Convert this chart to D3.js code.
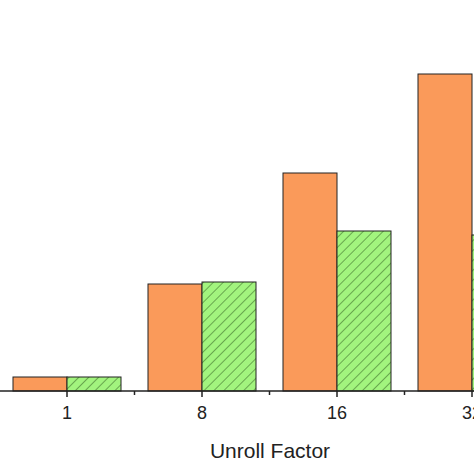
<!DOCTYPE html>
<html>
<head>
<meta charset="utf-8">
<script src="https://cdn.jsdelivr.net/npm/d3@7"></script>
<style>
  body { margin: 0; background: #fff; }
  text { font-family: Arial, "Liberation Sans", sans-serif; }
</style>
</head>
<body>
<svg id="chart"></svg>
<script>
// Data (arbitrary units)
const factors = ['1', '8', '16', '32'];
const seriesA = [14, 107, 218, 317];
const seriesB = [14, 109, 160, 156];

const width = 474, height = 474;
const baseY = 391;

const svg = d3.select('#chart').attr('width', width).attr('height', height);

// Hatch pattern for second series
const defs = svg.append('defs');
const pat = defs.append('pattern')
  .attr('id', 'hatch')
  .attr('patternUnits', 'userSpaceOnUse')
  .attr('width', 7).attr('height', 7)
  .attr('patternTransform', 'rotate(45)');
pat.append('rect').attr('width', 7).attr('height', 7).attr('fill', '#a2f47e');
pat.append('line').attr('x1', 0).attr('y1', 0).attr('x2', 0).attr('y2', 7)
  .attr('stroke', '#2e5a1e').attr('stroke-width', 1);

const x = d3.scaleBand().domain(factors).range([-0.5, 539.5]).paddingInner(0.2).paddingOuter(0.1);
const y = d3.scaleLinear().domain([0, baseY]).range([baseY, 0]);
const half = x.bandwidth() / 2;

const g = svg.append('g');

g.selectAll('.barA').data(factors).enter().append('rect')
  .attr('x', d => x(d))
  .attr('y', (d, i) => y(seriesA[i]))
  .attr('width', half)
  .attr('height', (d, i) => baseY - y(seriesA[i]))
  .attr('fill', '#fa9a5a').attr('stroke', '#222').attr('stroke-width', 1);

g.selectAll('.barB').data(factors).enter().append('rect')
  .attr('x', d => x(d) + half)
  .attr('y', (d, i) => y(seriesB[i]))
  .attr('width', half)
  .attr('height', (d, i) => baseY - y(seriesB[i]))
  .attr('fill', 'url(#hatch)').attr('stroke', '#222').attr('stroke-width', 1);

// X axis
const axis = svg.append('g').attr('transform', `translate(0,${baseY})`);
axis.append('line').attr('x1', 0).attr('x2', width).attr('stroke', '#222').attr('stroke-width', 1.5);
factors.forEach(f => {
  const cx = x(f) + half;
  axis.append('line').attr('x1', cx).attr('x2', cx).attr('y1', 0).attr('y2', 6).attr('stroke', '#222').attr('stroke-width', 1.5);
  axis.append('text').attr('x', cx).attr('y', 28).attr('text-anchor', 'middle')
    .attr('font-size', 18).attr('fill', '#222').text(f);
});
// minor ticks between categories
factors.slice(1).forEach(f => {
  const mx = x(f) + half - x.step() / 2;
  axis.append('line').attr('x1', mx).attr('x2', mx).attr('y1', 0).attr('y2', 4).attr('stroke', '#222').attr('stroke-width', 1.5);
});

svg.append('text').attr('x', 270).attr('y', 458).attr('text-anchor', 'middle')
  .attr('font-size', 21).attr('fill', '#222').text('Unroll Factor');
</script>
</body>
</html>
